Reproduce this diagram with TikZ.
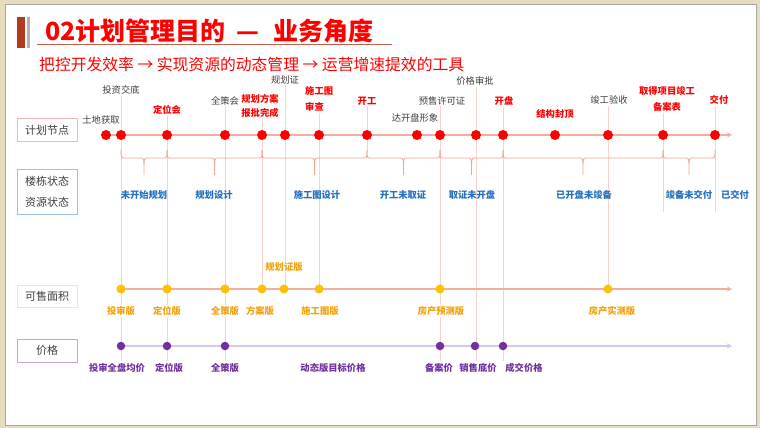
\documentclass[tikz,border=0pt]{standalone}
\usepackage{fontspec}
\setmainfont{Noto Sans CJK SC}
\usepackage{tikz}
\usetikzlibrary{arrows}

\definecolor{keyred}{HTML}{FF0000}
\definecolor{textgray}{HTML}{404040}
\definecolor{guidepink}{HTML}{F9D2CA}
\definecolor{planline}{HTML}{F4AE9E}
\definecolor{bracesalmon}{HTML}{F2A590}
\definecolor{stateblue}{HTML}{2270C0}
\definecolor{areayellow}{HTML}{FFC000}
\definecolor{areaorange}{HTML}{F2A20C}
\definecolor{pricepurple}{HTML}{7030A0}
\definecolor{pricelilac}{HTML}{D9C6EA}
\definecolor{boxpink}{HTML}{F4B8AC}
\definecolor{boxblue}{HTML}{9DC3E6}
\definecolor{boxyellow}{HTML}{FFE699}
\definecolor{boxlilac}{HTML}{C3A6D8}
\definecolor{slidebeige}{HTML}{E8DCBE}
\definecolor{barred}{HTML}{B4391E}

\begin{document}
\begin{tikzpicture}[x=1pt,y=-1pt]
    \newcommand{\planrow}[0]{135}
    \newcommand{\arearow}[0]{289}
    \newcommand{\pricerow}[0]{346}
    \newcommand{\bracerow}[0]{150}
    \newcommand{\staterow}[0]{195}
    \newcommand{\smallfont}[0]{\fontsize{9.3}{14}\selectfont}
    \newcommand{\stagebrace}[2]{%
      \pgfmathsetmacro{\bmid}{(#1+#2)/2}%
      \draw[stage] (#1,\bracerow) .. controls (#1,158) .. (#1+4,158)
        -- (\bmid-3,158) .. controls (\bmid,158) .. (\bmid,175)
        .. controls (\bmid,158) .. (\bmid+3,158)
        -- (#2-4,158) .. controls (#2,158) .. (#2,\bracerow);
    }

    \tikzstyle{dedge} = [->,>=stealth,line width=1.2pt]

    \tikzstyle{rowbox}=[
      rectangle,
      draw,
      line width=0.9pt,
      minimum width=60pt,
      minimum height=23pt,
      text=textgray,
      align=center,
      font=\fontsize{11}{21}\selectfont,
    ]
    \tikzstyle{milestone}=[
      font=\smallfont,
      text=textgray,
      inner sep=1pt,
    ]
    \tikzstyle{keystone}=[
      milestone,
      text=keyred,
      font=\smallfont\bfseries,
    ]
    \tikzstyle{plandot}=[circle,fill=keyred,minimum size=10pt,inner sep=0pt]
    \tikzstyle{areadot}=[circle,fill=areayellow,minimum size=9pt,inner sep=0pt]
    \tikzstyle{pricedot}=[circle,fill=pricepurple,minimum size=8.5pt,inner sep=0pt]
    \tikzstyle{guide}=[draw=guidepink,line width=0.8pt]
    \tikzstyle{stage}=[draw=bracesalmon,line width=0.8pt]
    \tikzstyle{stagetext}=[font=\smallfont\bfseries,text=stateblue,inner sep=1pt]
    \tikzstyle{areatext}=[font=\smallfont\bfseries,text=areaorange,inner sep=1pt,fill=white]
    \tikzstyle{pricetext}=[font=\smallfont\bfseries,text=pricepurple,inner sep=1pt]

    \useasboundingbox (0,0) rectangle (760,428);
    \fill[slidebeige] (0,0) rectangle (760,428);
    \filldraw[fill=white,draw=black!35,line width=0.8pt] (5,4) rectangle (756,425);

    \fill[barred] (17,17) rectangle (25,48);
    \fill[black!30] (27,17) rectangle (29.5,48);
    \node[anchor=west,text=keyred,inner sep=0pt,font=\fontsize{25}{28}\selectfont\bfseries] (title)
      at (45,31) {02计划管理目的\hspace{0.45em}—\hspace{0.55em}业务角度};
    \draw[barred!80,line width=0.9pt] (37,44) -- (392,44);
    \node[anchor=west,text=keyred,inner sep=0pt,font=\fontsize{15.8}{18}\selectfont] (subtitle)
      at (39,64) {把控开发效率 → 实现资源的动态管理 → 运营增速提效的工具};

    \node[rowbox,draw=boxpink] (planbox) at (47,130) {计划节点};
    \node[rowbox,draw=boxblue,minimum height=45pt] (statebox) at (47,191.5) {楼栋状态\\资源状态};
    \node[rowbox,draw=boxyellow,minimum height=22pt] (areabox) at (47,296) {可售面积};
    \node[rowbox,draw=boxlilac] (pricebox) at (47,350.5) {价格};

    \coordinate (p1) at (106,\planrow);
    \coordinate (p2) at (121,\planrow);
    \coordinate (p3) at (167,\planrow);
    \coordinate (p4) at (225,\planrow);
    \coordinate (p5) at (262,\planrow);
    \coordinate (p6) at (285,\planrow);
    \coordinate (p7) at (319,\planrow);
    \coordinate (p8) at (367,\planrow);
    \coordinate (p9) at (417,\planrow);
    \coordinate (p10) at (440,\planrow);
    \coordinate (p11) at (476,\planrow);
    \coordinate (p12) at (503,\planrow);
    \coordinate (p13) at (555,\planrow);
    \coordinate (p14) at (608,\planrow);
    \coordinate (p15) at (663,\planrow);
    \coordinate (p16) at (715,\planrow);

    \coordinate (bracebase) at (0,\bracerow);
    \coordinate (statefoot) at (0,212);
    \coordinate (areafoot) at (0,\arearow);
    \coordinate (pricefoot) at (0,361);

    \node[milestone] (l1) at (101,120) {土地获取};
    \node[milestone] (l2) at (121,90) {投资交底};
    \node[keystone] (l3) at (167,110) {定位会};
    \node[milestone] (l4) at (225,101) {全策会};
    \node[keystone,align=center] (l5) at (260,106) {规划方案\\报批完成};
    \node[milestone] (l6) at (285,80) {规划证};
    \node[keystone,align=left,anchor=west,font=\fontsize{9.3}{16}\selectfont\bfseries] (l7) at (304,99) {施工图\\审查};
    \node[keystone] (l8) at (367,101) {开工};
    \node[milestone] (l9) at (415,118) {达开盘形象};
    \node[milestone] (l10) at (442,101) {预售许可证};
    \node[milestone] (l11) at (475,81) {价格审批};
    \node[keystone] (l12) at (504,101) {开盘};
    \node[keystone] (l13) at (555,114) {结构封顶};
    \node[milestone] (l14) at (609,100) {竣工验收};
    \node[keystone,align=center,font=\fontsize{9.3}{16}\selectfont\bfseries] (l15) at (667,99) {取得项目竣工\\备案表};
    \node[keystone] (l16) at (719,100) {交付};

    \draw[guide] (p2 |- l2.south) -- (p2 |- pricefoot);
    \draw[guide] (p3 |- l3.south) -- (p3 |- pricefoot);
    \draw[guide] (p4 |- l4.south) -- (p4 |- pricefoot);
    \draw[guide] (p5 |- l5.south) -- (p5 |- areafoot);
    \draw[guide] (p6 |- l6.south) -- (p6 |- areafoot);
    \draw[guide] (p7 |- l7.south) -- (p7 |- areafoot);
    \draw[guide] (p8 |- l8.south) -- (p8 |- bracebase);
    \draw[guide] (p10 |- l10.south) -- (p10 |- pricefoot);
    \draw[guide] (p11 |- l11.south) -- (p11 |- pricefoot);
    \draw[guide] (p12 |- l12.south) -- (p12 |- pricefoot);
    \draw[guide] (p14 |- l14.south) -- (p14 |- areafoot);
    \draw[guide] (p15 |- l15.south) -- (p15 |- statefoot);
    \draw[guide] (p16 |- l16.south) -- (p16 |- statefoot);

    \coordinate (planend) at (732,\planrow);
    \draw[dedge,draw=planline] (p1) -- (planend);

    \node[plandot] (d1) at (p1) {};
    \node[plandot] (d2) at (p2) {};
    \node[plandot] (d3) at (p3) {};
    \node[plandot] (d4) at (p4) {};
    \node[plandot] (d5) at (p5) {};
    \node[plandot] (d6) at (p6) {};
    \node[plandot] (d7) at (p7) {};
    \node[plandot] (d8) at (p8) {};
    \node[plandot] (d9) at (p9) {};
    \node[plandot] (d10) at (p10) {};
    \node[plandot] (d11) at (p11) {};
    \node[plandot] (d12) at (p12) {};
    \node[plandot] (d13) at (p13) {};
    \node[plandot] (d14) at (p14) {};
    \node[plandot] (d15) at (p15) {};
    \node[plandot] (d16) at (p16) {};

    \stagebrace{121}{167}
    \stagebrace{167}{262}
    \stagebrace{262}{367}
    \stagebrace{367}{440}
    \stagebrace{440}{503}
    \stagebrace{503}{663}
    \stagebrace{663}{715}

    \node[stagetext] (s1) at (144,\staterow) {未开始规划};
    \node[stagetext] (s2) at (214,\staterow) {规划设计};
    \node[stagetext] (s3) at (317,\staterow) {施工图设计};
    \node[stagetext] (s4) at (403,\staterow) {开工未取证};
    \node[stagetext] (s5) at (472,\staterow) {取证未开盘};
    \node[stagetext] (s6) at (584,\staterow) {已开盘未竣备};
    \node[stagetext] (s7) at (689,\staterow) {竣备未交付};
    \node[stagetext] (s8) at (735,\staterow) {已交付};

    \coordinate (areaend) at (732,\arearow);
    \draw[dedge,draw=planline] (p2 |- areafoot) -- (areaend);
    \node[areadot] (a1) at (121,\arearow) {};
    \node[areadot] (a2) at (167,\arearow) {};
    \node[areadot] (a3) at (225,\arearow) {};
    \node[areadot] (a4) at (262,\arearow) {};
    \node[areadot] (a5) at (284,\arearow) {};
    \node[areadot] (a6) at (319,\arearow) {};
    \node[areadot] (a7) at (440,\arearow) {};
    \node[areadot] (a8) at (608,\arearow) {};

    \node[areatext] () at (121,311) {投审版};
    \node[areatext] () at (167,311) {定位版};
    \node[areatext] () at (225,311) {全策版};
    \node[areatext] () at (260,311) {方案版};
    \node[areatext] () at (284,267) {规划证版};
    \node[areatext] () at (320,311) {施工图版};
    \node[areatext] () at (441,311) {房产预测版};
    \node[areatext] () at (612,311) {房产实测版};

    \coordinate (pricestart) at (121,\pricerow);
    \coordinate (priceend) at (732,\pricerow);
    \draw[dedge,draw=pricelilac,line width=1.3pt] (pricestart) -- (priceend);
    \node[pricedot] (r1) at (121,\pricerow) {};
    \node[pricedot] (r2) at (167,\pricerow) {};
    \node[pricedot] (r3) at (225,\pricerow) {};
    \node[pricedot] (r4) at (440,\pricerow) {};
    \node[pricedot] (r5) at (475,\pricerow) {};
    \node[pricedot] (r6) at (503,\pricerow) {};

    \node[pricetext] () at (117,368) {投审全盘均价};
    \node[pricetext] () at (169,368) {定位版};
    \node[pricetext] () at (225,368) {全策版};
    \node[pricetext] () at (333,368) {动态版目标价格};
    \node[pricetext] () at (439,368) {备案价};
    \node[pricetext] () at (478,368) {销售底价};
    \node[pricetext] () at (524,368) {成交价格};
  \end{tikzpicture}
\end{document}
